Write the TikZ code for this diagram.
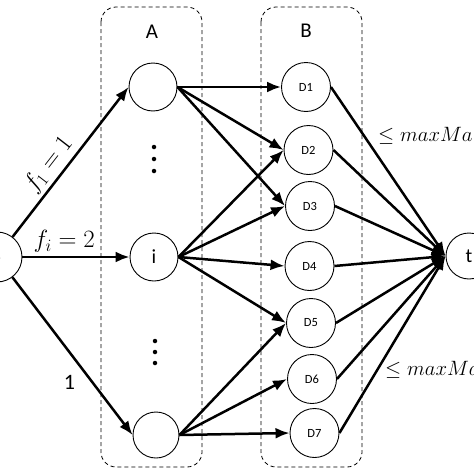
\documentclass[tikz,border=0pt]{standalone}
\usepackage{fontspec}
\setmainfont{Carlito}
\usetikzlibrary{arrows.meta}
\begin{document}
\begin{tikzpicture}[x=1pt,y=-1pt,
  vert/.style={circle, draw, line width=0.9pt, minimum size=48pt, inner sep=0pt, font=\fontsize{20}{24}\selectfont},
  dvert/.style={vert, minimum size=49pt, font=\fontsize{12.5}{14}\selectfont},
  flow/.style={line width=2.5pt, -{Latex[length=14pt,width=11pt]}},
  group/.style={draw, line width=0.8pt, rounded corners=15pt, dash pattern=on 4pt off 3pt},
  big/.style={font=\fontsize{21}{24}\selectfont},
  mathlab/.style={font=\fontsize{24}{28}\selectfont},
  caplab/.style={font=\fontsize{22}{26}\selectfont, inner sep=0pt, anchor=base west},
  dotmark/.style={circle, fill, inner sep=0pt, minimum size=4.5pt}]
\clip (0,0) rectangle (474,474);
\fill[white] (0,0) rectangle (474,474);
% groups
\draw[group] (101,7) rectangle (202,467);
\draw[group] (261,7) rectangle (362,467);
\node[big] (la) at (152,32) {A};
\node[big] (lb) at (306,31) {B};
% nodes
\node[vert, minimum size=50pt] (s) at (-3,257) {s};
\node[vert] (a1) at (153,87) {};
\node[vert] (ai) at (154,257) {i};
\node[vert, minimum size=46pt] (a3) at (156,435) {};
\node[dvert] (d1) at (306,87) {D1};
\node[dvert] (d2) at (308.5,150) {D2};
\node[dvert] (d3) at (310,206) {D3};
\node[dvert] (d4) at (309.5,266) {D4};
\node[dvert] (d5) at (311,323) {D5};
\node[dvert] (d6) at (312,379) {D6};
\node[dvert] (d7) at (314.5,433) {D7};
\node[vert, minimum size=46pt] (t) at (469,256) {t};
% dots
\node[dotmark] (e1) at (154,147) {};
\node[dotmark] (e2) at (154,159) {};
\node[dotmark] (e3) at (154,171) {};
\node[dotmark] (e4) at (155,341) {};
\node[dotmark] (e5) at (155,352) {};
\node[dotmark] (e6) at (155,363) {};
% source edges
\draw[flow] (s) -- node[sloped, above, pos=0.42, mathlab] (f1) {$f_1 = 1$} (a1.west);
\draw[flow] (s) -- node[above, pos=0.39, mathlab] (fi) {$f_i = 2$} (ai.west);
\draw[flow] (s) -- node[pos=0.6, xshift=-15pt, yshift=-11pt, font=\fontsize{22}{26}\selectfont] (one) {1} (a3.west);
% A to B
\foreach \d in {d1,d2,d3} \draw[flow] (a1.east) -- (\d.west);
\foreach \d in {d2,d3,d4,d5} \draw[flow] (ai.east) -- (\d.west);
\foreach \d in {d5,d6,d7} \draw[flow] (a3.east) -- (\d.west);
% B to t
\foreach \d in {d1,d2,d3,d4,d5,d6,d7} \draw[flow] (\d.east) -- (t.west);
% capacity labels
\node[caplab] (c1) at (378,141) {$\leq maxMa$};
\node[caplab] (c2) at (385,375) {$\leq maxMa$};
\end{tikzpicture}
\end{document}
